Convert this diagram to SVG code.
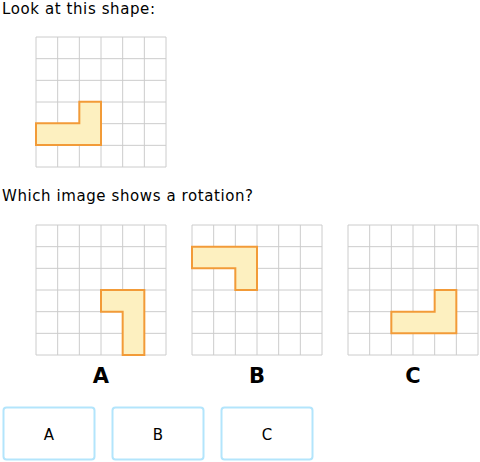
<svg xmlns="http://www.w3.org/2000/svg" width="480" height="462" viewBox="0 0 480 462">
<style>
text{font-family:"DejaVu Sans",Verdana,sans-serif;fill:#000}
.q{font-size:15px}
.lbl{font-size:21px;font-weight:bold;text-anchor:middle}
.btn rect{fill:#fff;stroke:#b3e5fc;stroke-width:2}
.btn text{font-size:15px;text-anchor:middle}
.grid line{stroke:#cccccc;stroke-width:1}
.shape{fill:#fdf0c0;stroke:#f29b38;stroke-width:2;stroke-linejoin:miter}
</style>
<defs>
<g id="grid" class="grid">
<line x1="0" y1="0" x2="130" y2="0"/>
<line x1="0" y1="21.67" x2="130" y2="21.67"/>
<line x1="0" y1="43.33" x2="130" y2="43.33"/>
<line x1="0" y1="65" x2="130" y2="65"/>
<line x1="0" y1="86.67" x2="130" y2="86.67"/>
<line x1="0" y1="108.33" x2="130" y2="108.33"/>
<line x1="0" y1="130" x2="130" y2="130"/>
<line x1="0" y1="0" x2="0" y2="130"/>
<line x1="21.67" y1="0" x2="21.67" y2="130"/>
<line x1="43.33" y1="0" x2="43.33" y2="130"/>
<line x1="65" y1="0" x2="65" y2="130"/>
<line x1="86.67" y1="0" x2="86.67" y2="130"/>
<line x1="108.33" y1="0" x2="108.33" y2="130"/>
<line x1="130" y1="0" x2="130" y2="130"/>
</g>
</defs>
<text class="q" x="2" y="14" textLength="153" lengthAdjust="spacing">Look at this shape:</text>
<g id="original">
<use href="#grid" x="36" y="37"/>
<polygon class="shape" points="36,123.33 79.33,123.33 79.33,101.67 101,101.67 101,145 36,145"/>
</g>
<text class="q" x="2" y="201" textLength="251" lengthAdjust="spacing">Which image shows a rotation?</text>
<g id="optionA">
<use href="#grid" x="36" y="225"/>
<polygon class="shape" points="101,290 144.33,290 144.33,355 122.67,355 122.67,311.67 101,311.67"/>
<text class="lbl" x="101" y="383">A</text>
</g>
<g id="optionB">
<use href="#grid" x="192" y="225"/>
<polygon class="shape" points="192,246.67 257,246.67 257,290 235.33,290 235.33,268.33 192,268.33"/>
<text class="lbl" x="257" y="383">B</text>
</g>
<g id="optionC">
<use href="#grid" x="348" y="225"/>
<polygon class="shape" points="391.33,311.67 434.67,311.67 434.67,290 456.33,290 456.33,333.33 391.33,333.33"/>
<text class="lbl" x="413" y="383">C</text>
</g>
<g id="btnA" class="btn">
<rect x="3.5" y="407.5" width="91" height="52" rx="3"/>
<text x="49" y="440">A</text>
</g>
<g id="btnB" class="btn">
<rect x="112.5" y="407.5" width="91" height="52" rx="3"/>
<text x="158" y="440">B</text>
</g>
<g id="btnC" class="btn">
<rect x="221.5" y="407.5" width="91" height="52" rx="3"/>
<text x="267" y="440">C</text>
</g>
<g id="connectors"/>
</svg>
